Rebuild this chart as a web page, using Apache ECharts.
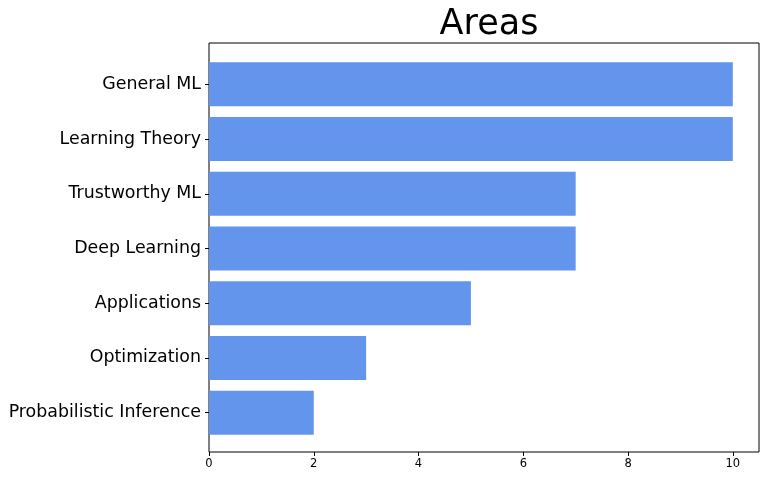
<!DOCTYPE html>
<html>
<head>
    <meta charset="utf-8" />
    <title>Areas</title>
    <style>
    html, body { margin: 0; padding: 0; background: #fff; }
    #chart { width: 768px; height: 482px; }
    </style>
    <script src="https://cdn.jsdelivr.net/npm/echarts@6/dist/echarts.min.js"></script>
</head>
<body>
    <div id="chart"></div>
    <script>
    // chart data
    var areas = ['General ML', 'Learning Theory', 'Trustworthy ML', 'Deep Learning',
        'Applications', 'Optimization', 'Probabilistic Inference'];
    var counts = [10, 10, 7, 7, 5, 3, 2];
    var xTicks = [0, 2, 4, 6, 8, 10];

    var font = 'DejaVu Sans';
    var chart = echarts.init(document.getElementById('chart'));

    chart.setOption({
        animation: false,
        title: {
            text: 'Areas',
            left: 484,
            textAlign: 'center',
            top: 2,
            textStyle: { fontFamily: font, fontSize: 35, fontWeight: 'normal', color: '#000' }
        },
        grid: [
            // frame + x axis
            { left: 209, right: 9, top: 43, bottom: 30, show: true, borderColor: '#000', borderWidth: 1, backgroundColor: 'transparent' },
            // bars, band sized like matplotlib's margins
            { left: 209, right: 9, top: 57, bottom: 42 }
        ],
        xAxis: [{
            gridIndex: 0,
            type: 'value',
            min: 0,
            max: 10.5,
            splitLine: { show: false },
            axisLine: { show: false },
            axisTick: { show: true, length: 4, customValues: xTicks, lineStyle: { color: '#000' } },
            axisLabel: { fontFamily: font, fontSize: 11.5, color: '#000', margin: 6, customValues: xTicks }
        }, {
            gridIndex: 1,
            type: 'value',
            min: 0,
            max: 10.5,
            show: false
        }],
        yAxis: [{
            gridIndex: 0,
            type: 'value',
            show: false
        }, {
            gridIndex: 1,
            type: 'category',
            data: areas,
            inverse: true,
            axisLine: { show: false },
            axisTick: { show: true, alignWithLabel: true, length: 4, lineStyle: { color: '#000' } },
            axisLabel: { fontFamily: font, fontSize: 17.4, color: '#000', margin: 8 }
        }],
        series: [{
            type: 'bar',
            xAxisIndex: 1,
            yAxisIndex: 1,
            data: counts,
            barWidth: 44,
            itemStyle: { color: '#6495ED' }
        }]
    });
    </script>
</body>
</html>
